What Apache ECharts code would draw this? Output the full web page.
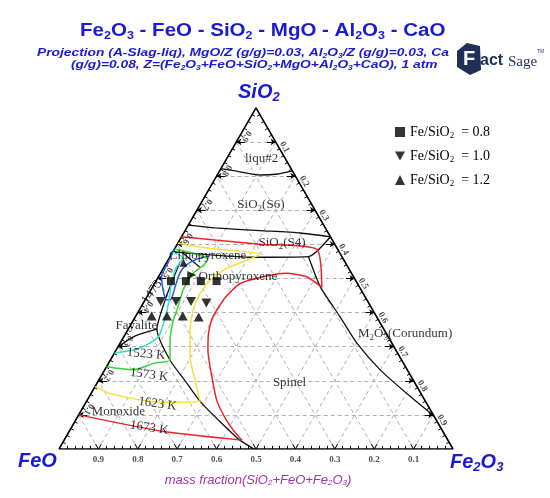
<!DOCTYPE html>
<html>
<head>
<meta charset="utf-8">
<script src="https://cdn.jsdelivr.net/npm/echarts@6/dist/echarts.min.js"></script>
<style>
html,body{margin:0;padding:0;background:#ffffff;}
#chart{width:550px;height:498px;}
</style>
</head>
<body>
<div id="chart"></div>
<script>
// ---------- DATA : compositions as [Fe2O3, SiO2] mass fractions (FeO = 1 - Fe2O3 - SiO2) ----------
const tickValues = [0.1, 0.2, 0.3, 0.4, 0.5, 0.6, 0.7, 0.8, 0.9];
const tickLabels = ['0.1', '0.2', '0.3', '0.4', '0.5', '0.6', '0.7', '0.8', '0.9'];

// phase-field boundaries (black)
const liqu2Boundary   = [[0,0.822],[0.04,0.815],[0.109,0.803],[0.153,0.806],[0.185,0.815]];
const s6s4Boundary    = [[0,0.656],[0.072,0.648],[0.19,0.64],[0.295,0.633],[0.378,0.622]];
const s4ClinoBoundary = [[0,0.578],[0.099,0.569],[0.204,0.562],[0.351,0.564],[0.378,0.622]];
const corundumBoundary= [[0.351,0.564],[0.425,0.476],[0.519,0.388],[0.601,0.31],[0.699,0.232],[0.801,0.163],[0.902,0.098]];
const spinelBoundary  = [[0.033,0.548],[0.042,0.489],[0.051,0.437],[0.073,0.351],[0.151,0.261],[0.228,0.193],[0.289,0.139],[0.369,0.08],[0.446,0.026],[0.495,0]];
const pyroxeneBoundary= [[0.028,0.574],[0.091,0.533]];
const fayaliteBoundary= [[0,0.3],[0.027,0.331],[0.073,0.351]];

// isotherms
const iso1473 = [[0,0.585],[0.004,0.545],[0.007,0.507],[0.031,0.466],[0.055,0.437],[0.065,0.44],[0.057,0.475],[0.049,0.516],[0.053,0.539],[0.072,0.557],[0.1,0.566]];
const iso1523 = [[0,0.577],[0.035,0.56],[0.032,0.531],[0.044,0.481],[0.061,0.437],[0.075,0.393],[0.084,0.355],[0.088,0.329],[0.07,0.305],[0.044,0.29],[0,0.281]];
const iso1573 = [[0,0.586],[0.06,0.572],[0.1,0.555],[0.095,0.535],[0.083,0.515],[0.082,0.466],[0.096,0.407],[0.101,0.378],[0.122,0.32],[0.151,0.261],[0.114,0.251],[0.073,0.232],[0.028,0.237],[0,0.241]];
const iso1623 = [[0,0.603],[0.089,0.588],[0.225,0.571],[0.193,0.549],[0.161,0.53],[0.136,0.495],[0.13,0.456],[0.137,0.407],[0.158,0.349],[0.197,0.271],[0.244,0.202],[0.289,0.139],[0.205,0.137],[0.134,0.144],[0.048,0.163],[0,0.183]];
const iso1673 = [[0,0.622],[0.21,0.6],[0.362,0.585],[0.43,0.474],[0.376,0.505],[0.32,0.515],[0.266,0.505],[0.217,0.485],[0.2,0.443],[0.197,0.388],[0.21,0.339],[0.233,0.29],[0.263,0.241],[0.328,0.144],[0.376,0.091],[0.414,0.056],[0.451,0.026],[0.23,0.053],[0,0.1]];

// experimental points
const seriesNames = ['Fe/SiO2 = 0.8', 'Fe/SiO2 = 1.0', 'Fe/SiO2 = 1.2'];
const points08 = [[0.038,0.492],[0.076,0.492],[0.114,0.492],[0.154,0.492]];
const points10 = [[0.042,0.432],[0.081,0.432],[0.119,0.432],[0.16,0.428]];
const points12 = [[0.04,0.39],[0.079,0.39],[0.119,0.39],[0.161,0.387]];
const pointerUp = [[0.043,0.546]];
const pointerRight = [[0.082,0.51]];

// field labels
const fieldLabelNames = ['liqu#2','SiO_2(S6)','SiO_2(S4)','Clinopyroxene','Orthopyroxene','Fayalite','1473','1523 K','1573 K','1623 K','Monoxide','1673 K','M_2O_3(Corundum)','Spinel'];
const fieldLabelAt = [[0.089,0.85],[0.155,0.715],[0.264,0.604],[0.094,0.566],[0.202,0.504],[0.015,0.363],[0.006,0.46],[0.082,0.278],[0.12,0.217],[0.184,0.132],[0.095,0.111],[0.198,0.062],[0.71,0.337],[0.487,0.196]];

// ---------- helpers ----------
const H = Math.sqrt(3) / 2;
const toXY = p => [p[0] + p[1] / 2, p[1] * H];
const sub = t => t.replace(/_(\d)/g, '{s|$1}');
const labelRotation = {'1473': 55, '1523 K': -5, '1573 K': -8, '1623 K': -8, '1673 K': -9};

const series = [];

// dashed grid
const gridData = [];
tickValues.forEach(v => {
  gridData.push({coords: [toXY([0, v]), toXY([1 - v, v])]});
  gridData.push({coords: [toXY([v, 0]), toXY([v, 1 - v])]});
  gridData.push({coords: [toXY([1 - v, 0]), toXY([0, 1 - v])]});
});
series.push({type: 'lines', coordinateSystem: 'cartesian2d', data: gridData, silent: true, z: 1,
  lineStyle: {color: '#b0b0b0', width: 1, type: [4, 3], opacity: 1}});

// minor ticks
const minorData = [];
const L = 0.008;
for (let k = 1; k < 50; k++) {
  if (k % 5 === 0) continue;
  const t = k * 0.02;
  minorData.push({coords: [[t, 0], [t, L]]});
  const lp = toXY([0, t]);
  minorData.push({coords: [lp, [lp[0] + L * 0.866, lp[1] - L * 0.5]]});
  const rp = toXY([1 - t, t]);
  minorData.push({coords: [rp, [rp[0] - L * 0.866, rp[1] - L * 0.5]]});
}
series.push({type: 'lines', coordinateSystem: 'cartesian2d', data: minorData, silent: true, z: 3,
  lineStyle: {color: '#000', width: 1, opacity: 1}});

// major tick arrows
const arrowData = [], vData = [];
tickValues.forEach(v => {
  const lp = toXY([0, v]);
  arrowData.push({coords: [[lp[0] + 0.022, lp[1]], lp]});
  const rp = toXY([1 - v, v]);
  arrowData.push({coords: [[rp[0] - 0.022, rp[1]], rp]});
  vData.push({coords: [[v, 0], [v + 0.0075, 0.013]]});
  vData.push({coords: [[v, 0], [v - 0.0075, 0.013]]});
});
series.push({type: 'lines', coordinateSystem: 'cartesian2d', data: arrowData, silent: true, z: 3,
  symbol: ['none', 'arrow'], symbolSize: 5, lineStyle: {color: '#000', width: 1, opacity: 1}});
series.push({type: 'lines', coordinateSystem: 'cartesian2d', data: vData, silent: true, z: 3,
  lineStyle: {color: '#000', width: 1, opacity: 1}});

// frame
series.push({type: 'line', data: [[0,0],[1,0],[0,1],[0,0]].map(toXY), symbol: 'none', silent: true, z: 4,
  lineStyle: {color: '#000', width: 1.6}});

const curve = (data, color, width, z) => ({type: 'line', data: data.map(toXY), symbol: 'none', silent: true,
  smooth: 0.2, z: z, lineStyle: {color: color, width: width}});

[liqu2Boundary, s6s4Boundary, s4ClinoBoundary, corundumBoundary, spinelBoundary, pyroxeneBoundary, fayaliteBoundary]
  .forEach(d => series.push(curve(d, '#111', 1.3, 5)));
series.push(curve(iso1473, '#2d5be0', 1.5, 6));
series.push(curve(iso1523, '#2fe3c4', 1.5, 6));
series.push(curve(iso1573, '#38d43a', 1.5, 6));
series.push(curve(iso1623, '#f2e23a', 1.5, 6));
series.push(curve(iso1673, '#e8262b', 1.5, 6));

// markers
const downTri = 'path://M0,0L10,0L5,9Z';
series.push({type: 'scatter', name: seriesNames[0], data: points08.map(toXY), symbol: 'rect', symbolSize: 8,
  itemStyle: {color: '#000'}, z: 8});
series.push({type: 'scatter', name: seriesNames[1], data: points10.map(toXY), symbol: downTri, symbolSize: [10, 9],
  itemStyle: {color: '#000'}, z: 8});
series.push({type: 'scatter', name: seriesNames[2], data: points12.map(toXY), symbol: 'triangle', symbolSize: [10, 9],
  itemStyle: {color: '#000'}, z: 8});
series.push({type: 'scatter', data: pointerUp.map(toXY), symbol: 'triangle', symbolSize: [8, 8],
  itemStyle: {color: '#000'}, z: 8, silent: true});
series.push({type: 'scatter', data: pointerRight.map(toXY), symbol: 'triangle', symbolRotate: -90, symbolSize: [8, 9],
  itemStyle: {color: '#000'}, z: 8, silent: true});

// field labels
const serifRich = {s: {fontFamily: 'Liberation Serif', fontSize: 9, padding: [7, 0, 0, 0], color: '#000'}};
series.push({type: 'scatter', silent: true, z: 9, symbolSize: 1, itemStyle: {color: 'rgba(0,0,0,0)'},
  data: fieldLabelNames.map((n, i) => ({value: toXY(fieldLabelAt[i]),
    label: {show: true, position: 'inside', formatter: sub(n), rotate: labelRotation[n] || 0,
      fontFamily: 'Liberation Serif', fontSize: 13, color: '#000', rich: serifRich}}))});

// edge tick labels
const tickLabelStyle = {fontFamily: 'Liberation Serif', fontWeight: 'bold', fontSize: 9, color: '#222'};
const tickData = [];
tickValues.forEach((v, i) => {
  tickData.push({value: [1 - v, 0], label: Object.assign({show: true, position: 'inside', formatter: tickLabels[i], offset: [0, 11]}, tickLabelStyle)});
  tickData.push({value: toXY([0, v]), label: Object.assign({show: true, position: 'inside', formatter: tickLabels[i], offset: [-10, -6], rotate: -120}, tickLabelStyle)});
  tickData.push({value: toXY([v, 1 - v]), label: Object.assign({show: true, position: 'inside', formatter: tickLabels[i], offset: [9, -5], rotate: -60}, tickLabelStyle)});
});
series.push({type: 'scatter', silent: true, z: 9, symbolSize: 1, itemStyle: {color: 'rgba(0,0,0,0)'}, data: tickData});

// ---------- texts ----------
const blue = '#1a1ad6';
const titleRich = {
  b: {fill: blue, fontFamily: 'Liberation Sans', fontWeight: 'bold', fontSize: 18},
  s: {fill: blue, fontFamily: 'Liberation Sans', fontWeight: 'bold', fontSize: 11, padding: [10, 0, 0, 0]}
};
const subRich = {
  b: {fill: blue, fontFamily: 'Liberation Sans', fontWeight: 'bold', fontStyle: 'italic', fontSize: 11.5},
  s: {fill: blue, fontFamily: 'Liberation Sans', fontWeight: 'bold', fontStyle: 'italic', fontSize: 7, padding: [6, 0, 0, 0]}
};
const vertRich = {
  b: {fill: blue, fontFamily: 'Liberation Sans', fontWeight: 'bold', fontStyle: 'italic', fontSize: 20},
  s: {fill: blue, fontFamily: 'Liberation Sans', fontWeight: 'bold', fontStyle: 'italic', fontSize: 13, padding: [10, 0, 0, 0]}
};
const purple = '#a033a8';
const massRich = {
  b: {fill: purple, fontFamily: 'Liberation Sans', fontStyle: 'italic', fontSize: 13},
  s: {fill: purple, fontFamily: 'Liberation Sans', fontStyle: 'italic', fontSize: 8, padding: [6, 0, 0, 0]}
};
const rt = (x, y, text, rich, align, sx) => ({type: 'text', x: x, y: y, scaleX: sx || 1, z: 10,
  style: {text: text, rich: rich, align: align || 'left', textAlign: align || 'left', verticalAlign: 'middle', textVerticalAlign: 'middle'}});

const navy = '#1f2f55';
const graphic = [
  rt(80, 31, '{b|Fe}{s|2}{b|O}{s|3}{b| - FeO - SiO}{s|2}{b| - MgO - Al}{s|2}{b|O}{s|3}{b| - CaO}', titleRich, 'left', 1.14),
  rt(37, 53, '{b|Projection (A-Slag-liq), MgO/Z (g/g)=0.03, Al}{s|2}{b|O}{s|3}{b|/Z (g/g)=0.03, Ca}', subRich, 'left', 1.2),
  rt(71, 65, '{b|(g/g)=0.08, Z=(Fe}{s|2}{b|O}{s|3}{b|+FeO+SiO}{s|2}{b|+MgO+Al}{s|2}{b|O}{s|3}{b|+CaO), 1 atm}', subRich, 'left', 1.2),
  rt(238, 92, '{b|SiO}{s|2}', vertRich, 'left'),
  rt(18, 461, '{b|FeO}', vertRich, 'left'),
  rt(450, 462, '{b|Fe}{s|2}{b|O}{s|3}', vertRich, 'left'),
  rt(258, 480, '{b|mass fraction(SiO}{s|2}{b|+FeO+Fe}{s|2}{b|O}{s|3}{b|)}', massRich, 'center'),
  {type: 'polygon', z: 10, shape: {points: [[457,51],[467,43],[480,46],[481,70],[470,75],[457,67]]}, style: {fill: navy}},
  {type: 'text', x: 469, y: 59, z: 11, style: {text: 'F', fill: '#fff', font: 'bold 20px "Liberation Sans"', align: 'center', textAlign: 'center', verticalAlign: 'middle', textVerticalAlign: 'middle'}},
  {type: 'text', x: 480, y: 61, z: 11, style: {text: 'act', fill: navy, font: 'bold 16px "Liberation Sans"', verticalAlign: 'middle', textVerticalAlign: 'middle'}},
  {type: 'text', x: 508, y: 62, z: 11, style: {text: 'Sage', fill: navy, font: '15px "Liberation Serif"', verticalAlign: 'middle', textVerticalAlign: 'middle'}},
  {type: 'text', x: 537, y: 52, z: 11, style: {text: 'TM', fill: navy, font: '5px "Liberation Sans"', verticalAlign: 'middle', textVerticalAlign: 'middle'}}
];

const chart = echarts.init(document.getElementById('chart'), null, {renderer: 'canvas'});
chart.setOption({
  animation: false,
  backgroundColor: '#ffffff',
  grid: {left: 59, right: 97, top: 107.8, bottom: 49, containLabel: false},
  xAxis: {type: 'value', min: 0, max: 1, show: false},
  yAxis: {type: 'value', min: 0, max: H, show: false},
  legend: {
    orient: 'vertical', left: 390, top: 120, itemWidth: 10, itemHeight: 10, itemGap: 9,
    data: seriesNames, selectedMode: false,
    formatter: n => '{n|Fe/SiO}{s|2}{n|  = ' + n.split('= ')[1] + '}',
    textStyle: {color: '#000', fontFamily: 'Liberation Serif', fontSize: 14,
      rich: {n: {fontFamily: 'Liberation Serif', fontSize: 14, color: '#000'},
             s: {fontFamily: 'Liberation Serif', fontSize: 9, color: '#000', padding: [7, 0, 0, 0]}}}
  },
  graphic: graphic,
  series: series
});
</script>
</body>
</html>
